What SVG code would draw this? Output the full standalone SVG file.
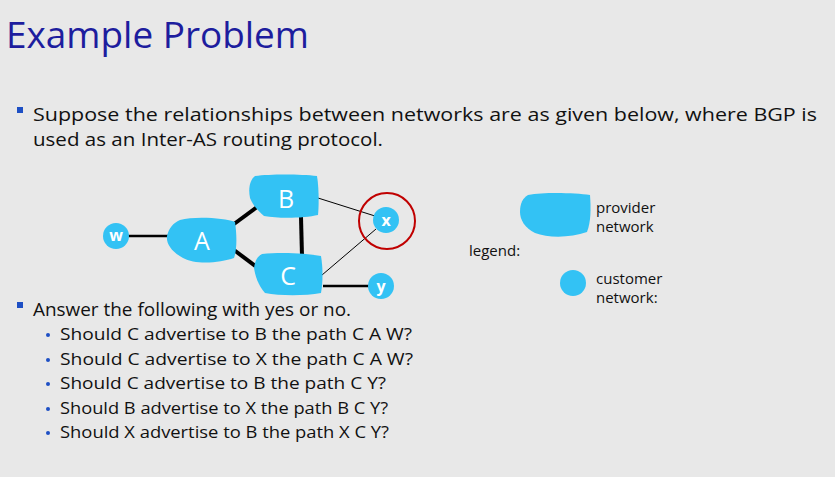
<svg xmlns="http://www.w3.org/2000/svg" width="835" height="477" viewBox="0 0 835 477">
<style>
text{font-family:"Open Sans",Lato,"Liberation Sans",sans-serif}
.blob{fill:#33c2f4}
.lbl{fill:#fff;font-size:25px;text-anchor:middle}
.sm{fill:#fff;font-size:16px;font-weight:bold;text-anchor:middle}
.t{fill:#111;font-size:19px}
.s{fill:#111;font-size:16px}
.lg{fill:#111;font-size:15px}
</style>
<rect width="835" height="477" fill="#e8e8e8"/>
<text x="6" y="48" font-size="36" fill="#1d1d9e" textLength="303" lengthAdjust="spacingAndGlyphs">Example Problem</text>
<rect x="17" y="107" width="6" height="6" fill="#1d4fc4"/>
<text class="t" x="33" y="121" textLength="784" lengthAdjust="spacingAndGlyphs">Suppose  the relationships between networks are  as given below, where BGP is</text>
<text class="t" x="33" y="146" textLength="350" lengthAdjust="spacingAndGlyphs">used as an Inter-AS routing protocol.</text>
<g id="connectors" stroke="#000">
<line x1="128" y1="236" x2="170" y2="236" stroke-width="2.5"/>
<line x1="234" y1="224" x2="257" y2="207" stroke-width="4"/>
<line x1="234" y1="250" x2="258" y2="268" stroke-width="4"/>
<line x1="301" y1="217" x2="302" y2="256" stroke-width="4"/>
<line x1="318" y1="198" x2="375" y2="216" stroke-width="1"/>
<line x1="322" y1="275" x2="376" y2="229" stroke-width="1"/>
<line x1="323" y1="286" x2="370" y2="286" stroke-width="2.5"/>
</g>
<g id="w"><circle class="blob" cx="116" cy="236" r="13"/><text class="sm" x="116" y="241">w</text></g>
<g id="A"><path class="blob" d="M180 220 C195 216 225 218 235 222 C237 235 237 250 234 258 C220 263 195 265 183 258 C172 252 166 244 167 236 C169 228 173 223 180 220Z"/><text class="lbl" x="202" y="250">A</text></g>
<g id="B"><path class="blob" d="M255 176 C270 174 300 174 317 176 C319 188 319 205 318 215 C305 218 280 219 264 216 C257 210 253 205 250 198 C248 188 250 180 255 176Z"/><text class="lbl" x="286" y="208">B</text></g>
<g id="C"><path class="blob" d="M262 254 C280 252 305 253 321 256 C323 268 323 282 321 293 C305 296 280 296 265 293 C258 285 255 275 254 268 C255 260 258 256 262 254Z"/><text class="lbl" x="288" y="285">C</text></g>
<g id="x"><circle class="blob" cx="386" cy="220" r="13"/><text class="sm" x="386" y="226">x</text><circle cx="387" cy="221" r="28" fill="none" stroke="#c00000" stroke-width="2"/></g>
<g id="y"><circle class="blob" cx="381" cy="286" r="13"/><text class="sm" x="381" y="292">y</text></g>
<g id="legend">
<path class="blob" d="M528 195 C545 192 575 193 590 195 C591 208 591 222 587 232 C570 238 548 238 535 233 C525 228 520 220 520 212 C520 203 523 198 528 195Z"/>
<text class="lg" x="596" y="213">provider</text>
<text class="lg" x="596" y="232">network</text>
<text class="lg" x="469" y="256">legend:</text>
<circle class="blob" cx="573" cy="283" r="13"/>
<text class="lg" x="596" y="284">customer</text>
<text class="lg" x="596" y="303">network:</text>
</g>
<rect x="17" y="302" width="6" height="6" fill="#1d4fc4"/>
<text class="t" x="33" y="316" textLength="318" lengthAdjust="spacingAndGlyphs">Answer the following with yes or no.</text>
<g fill="#1d4fc4"><circle cx="48" cy="335" r="2"/><circle cx="48" cy="360" r="2"/><circle cx="48" cy="384" r="2"/><circle cx="48" cy="409" r="2"/><circle cx="48" cy="433" r="2"/></g>
<text class="s" x="60" y="340" textLength="352" lengthAdjust="spacingAndGlyphs">Should C advertise to B the path C A W?</text>
<text class="s" x="60" y="365" textLength="353" lengthAdjust="spacingAndGlyphs">Should C advertise to X the path C A W?</text>
<text class="s" x="60" y="389" textLength="326" lengthAdjust="spacingAndGlyphs">Should C advertise to B the path C Y?</text>
<text class="s" x="60" y="414" textLength="328" lengthAdjust="spacingAndGlyphs">Should B advertise to X the path B C Y?</text>
<text class="s" x="60" y="438" textLength="329" lengthAdjust="spacingAndGlyphs">Should X advertise to B the path X C Y?</text>
</svg>
